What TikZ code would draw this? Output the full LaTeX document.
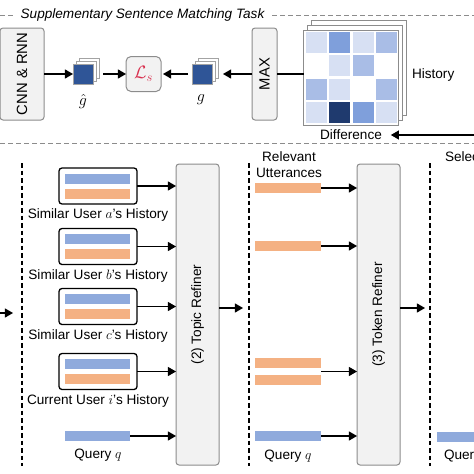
\RequirePackage{fix-cm}
\documentclass[tikz,border=0pt]{standalone}
\usepackage{fontspec}
\setmainfont{Liberation Sans}
\usetikzlibrary{arrows}

\definecolor{barblue}{HTML}{8FAADC}
\definecolor{barorange}{HTML}{F4B183}
\definecolor{boxgray}{HTML}{F2F2F2}
\definecolor{edgegray}{HTML}{8C8C8C}
\definecolor{sqblue}{HTML}{2F5597}
\definecolor{lossred}{HTML}{D9304F}
\definecolor{cellA}{HTML}{D7E0F3}
\definecolor{cellB}{HTML}{A9BDE6}
\definecolor{cellC}{HTML}{7F9FDB}
\definecolor{cellD}{HTML}{1F3A6E}

\begin{document}
\begin{tikzpicture}[x = 1pt, y = -1pt, font = \fontsize{13.6}{16}\selectfont,
	every node/.style = {inner sep = 0pt, outer sep = 0pt},
	module/.style = {draw = edgegray, fill = boxgray, rounded corners = 3pt, line width = 1pt},
	histbox/.style = {draw = black, rounded corners = 3pt, line width = 1.3pt,
		minimum width = 78pt, minimum height = 36pt},
	bluebar/.style = {fill = barblue, minimum width = 65pt, minimum height = 10pt},
	orangebar/.style = {fill = barorange, minimum width = 65pt, minimum height = 10pt},
	sheet/.style = {draw = edgegray!80, fill = white, line width = 0.8pt, minimum size = 20pt},
	link/.style = {-triangle 60, line width = 1.2pt},
	sepline/.style = {draw = edgegray, line width = 1pt, dash pattern = on 5pt off 3pt},
	stageline/.style = {draw = black, line width = 1.4pt, dash pattern = on 4.5pt off 3pt}]

	\useasboundingbox (0, 0) rectangle (474, 474);
	\clip (0, 0) rectangle (474, 474);

	% supplementary task
	\draw[sepline] (0, 15) -- (474, 15);
	\draw[sepline] (0, 143) -- (474, 143);
	\node (TT) at (142.5, 15) [fill = white, inner xsep = 8pt, inner ysep = 2pt] {\itshape Supplementary Sentence Matching Task};

		\node (CR) at ( 22, 74) [module, minimum width = 44pt, minimum height = 92pt] {};
		\node at (CR) [rotate = 90, font = \fontsize{14.8}{16}\selectfont] {CNN \& RNN};
		\node (MX) at (264.5, 74) [module, minimum width = 25pt, minimum height = 92pt] {};
		\node at (MX) [rotate = 90, font = \fontsize{14.8}{16}\selectfont] {MAX};
		\node (LS) at (143.5, 74) [module, rounded corners = 5pt, minimum size = 35pt,
			text = lossred, font = \fontsize{18}{20}\selectfont] {$\mathcal{L}_s$};

		\node (GH2) at ( 89, 68) [sheet] {};
		\node (GH1) at ( 86, 71) [sheet] {};
		\node (GH)  at ( 83, 74) [sheet, fill = sqblue] {};
		\node (G2)  at (208, 68) [sheet] {};
		\node (G1)  at (205, 71) [sheet] {};
		\node (G)   at (202, 74) [sheet, fill = sqblue] {};
		\node at ( 83, 101) [font = \fontsize{16}{18}\selectfont] {$\hat{g}$};
		\node at (201, 100) [font = \fontsize{16}{18}\selectfont] {$g$};

		\node (HM2) at (359, 68) [draw = edgegray, fill = white, line width = 0.8pt, minimum size = 95pt] {};
		\node (HM1) at (355, 73) [draw = edgegray, fill = white, line width = 0.8pt, minimum size = 95pt] {};
		\node (HM)  at (351, 78) [draw = edgegray, fill = white, line width = 0.8pt, minimum size = 95pt] {};
		\foreach \row/\cols in {0/{cellA,cellC,cellA,cellB}, 1/{white,cellA,cellB,white},
				2/{cellB,cellA,white,cellB}, 3/{cellA,cellD,cellC,cellA}}
			\foreach \c [count = \col from 0] in \cols
				\fill[\c] (306 + 23.3*\col, 32 + 23.3*\row) rectangle ++(21, 21);
		\node (HS) at (412, 75) [anchor = west] {History};
		\node (DF) at (351, 135) [outer sep = 9pt] {Difference};
		\coordinate (DI) at (474, 135);

	    \path (CR) edge [link] (GH);
	    \path (GH -| GH2.east) edge [link, shorten <= 4pt] (LS);
	    \path (G) edge [link, shorten <= 4pt, shorten >= 2pt] (LS);
	    \path (MX) edge [link, shorten >= 5pt] (G -| G2.east);
	    \draw[line width = 1.2pt] (MX) -- (MX -| HM.west);
	    \path (DI) edge [link] (DF);

	% refinement stages
	\foreach \x in {22, 249, 430}
		\draw[stageline] (\x, 163) -- (\x, 466);

		\node (TR) at (197.5, 314.5) [module, minimum width = 43pt, minimum height = 301pt] {};
		\node at (TR) [rotate = 90] {(2) Topic Refiner};
		\node (KR) at (378.5, 314.5) [module, minimum width = 43pt, minimum height = 301pt] {};
		\node at (KR) [rotate = 90] {(3) Token Refiner};

		\foreach \name/\y/\who in {HA/186/Similar User $a$'s History, HB/246.5/Similar User $b$'s History,
				HC/306.5/Similar User $c$'s History, HI/371.5/Current User $i$'s History} {
			\node (\name) at (98, \y) [histbox] {};
			\node at (97.5, \y - 7.5) [bluebar] {};
			\node at (97.5, \y + 7.5) [orangebar] {};
			\node at (98, \y + 29) {\who};
		}
		\node (Q1) at (97.5, 436) [bluebar] {};
		\node at (98, 455) {Query $q$};

		\node (RU) at (289, 165) [align = center] {Relevant\\Utterances};
		\node (U1) at (288, 188) [orangebar, minimum width = 66pt] {};
		\node (U2) at (288, 246) [orangebar, minimum width = 66pt] {};
		\node (U3) at (288, 363) [orangebar, minimum width = 66pt] {};
		\node (U4) at (288, 380) [orangebar, minimum width = 66pt] {};
		\coordinate (U34) at (321, 371.5);
		\node (Q2) at (288, 436) [bluebar, minimum width = 66pt] {};
		\node at (288, 456) {Query $q$};

		\node (SL) at (445, 157) [anchor = west] {Selected};
		\node (Q3) at (470, 437) [bluebar, minimum width = 66pt] {};
		\node at (444, 456) [anchor = west] {Query $q$};

		\coordinate (IL) at (0, 313);
		\coordinate (IR) at (13, 313);
		\coordinate (TO) at (243, 308);
		\coordinate (KO) at (425, 308);

	    \foreach \from in {HA, HB, HC, HI, Q1}
	    	\path (\from) edge [link] (\from -| TR.west);

	    \foreach \from in {U1, U2, U34, Q2}
	    	\path (\from) edge [link] (\from -| KR.west);

	    \path (IL) edge [link] (IR);
	    \path (TR.east |- TO) edge [link] (TO);
	    \path (KR.east |- KO) edge [link] (KO);

\end{tikzpicture}
\end{document}
